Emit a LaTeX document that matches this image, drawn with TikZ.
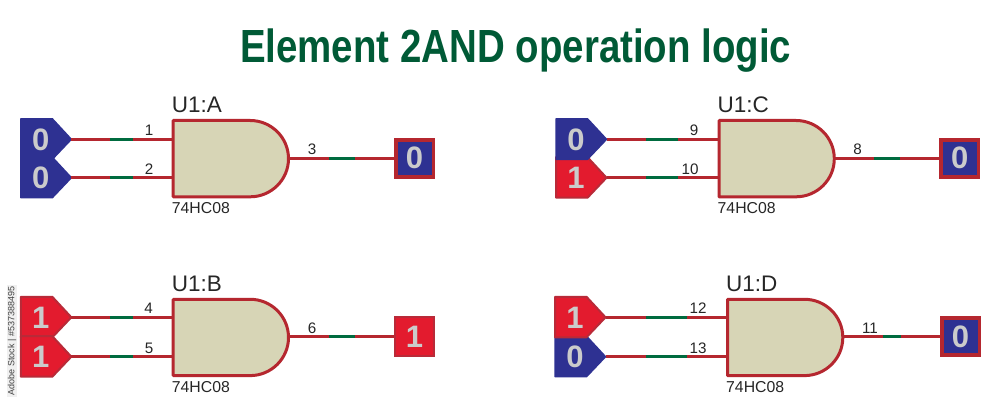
\documentclass[tikz,border=0pt]{standalone}
\usepackage{fontspec}
\setmainfont{Liberation Sans}
\usetikzlibrary{calc}
\definecolor{wirered}{HTML}{B5272F}
\definecolor{wiregreen}{HTML}{006B3F}
\definecolor{gatefill}{HTML}{D7D5B6}
\definecolor{lowblue}{HTML}{2E3192}
\definecolor{highred}{HTML}{E31B2E}
\definecolor{highedge}{HTML}{B92A38}
\definecolor{digitgrey}{HTML}{CBCBCB}
\definecolor{titlegreen}{HTML}{005A36}
\tikzset{
  wireline/.style={draw=wirered,line width=2.8pt},
  wiremid/.style={draw=wiregreen,line width=2.8pt},
  gatebody/.style={draw=wirered,fill=gatefill,line width=3pt,line join=round},
  pinlow/.style={draw=lowblue,fill=lowblue,line width=1.5pt,line join=round},
  pinhigh/.style={draw=highedge,fill=highred,line width=2pt,line join=round},
  digit/.style={text=digitgrey,inner sep=0pt,font=\fontsize{31}{31}\selectfont\bfseries},
  boxlow/.style={draw=wirered,fill=lowblue,line width=3.5pt,minimum width=37.5pt,minimum height=37pt,inner sep=0pt,digit},
  boxhigh/.style={draw=highedge,fill=highred,line width=2pt,minimum width=39.5pt,minimum height=39pt,inner sep=0pt,digit},
  partname/.style={anchor=base west,inner sep=0pt,text=black!85,font=\fontsize{22.5}{24}\selectfont},
  parttype/.style={anchor=base west,inner sep=0pt,text=black!85,font=\fontsize{15.8}{17}\selectfont},
  pinnum/.style={anchor=base,inner sep=0pt,text=black!85,font=\fontsize{15.2}{16}\selectfont},
}
% name, x, y of the top edge, style, value
\newcommand{\inpin}[5]{%
  \begin{scope}[shift={(#2,#3)}]
    \draw[#4] (0,0) -- (31.5,0) -- (50.5,20.5) -- (31.5,40.5) -- (0,40.5) -- cycle;
    \coordinate (#1) at (50.5,20.5);
    \node[digit] (#1-val) at (20,21) {#5};
  \end{scope}}
% name, x, y of the top edge, label
\newcommand{\andgate}[4]{%
  \begin{scope}[shift={(#2,#3)}]
    \draw[gatebody] (0,0) -- (77,0) .. controls (98,0) and (115.3,17) .. (115.3,38.2)
      .. controls (115.3,59.3) and (98,76.3) .. (77,76.3) -- (0,76.3) -- cycle;
    \node[partname] (#1-name) at (-1.5,-7.8) {#4};
    \node[parttype] (#1-type) at (-1.5,92.8) {74HC08};
  \end{scope}}
% from, to, green start x, green end x, number, number x, number node name
\newcommand{\wire}[7]{%
  \draw[wireline] (#1) -- (#2);
  \draw[wiremid] (#1 -| #3,0) -- (#1 -| #4,0);
  \node[pinnum] (#7) at ($(#1 -| #6,0)+(0,-3.4)$) {#5};}
\begin{document}
\begin{tikzpicture}[x=1pt,y=-1pt]
\useasboundingbox (0,0) rectangle (1000,403);
\fill[white] (0,0) rectangle (1000,403);

\node[anchor=base,inner sep=0pt,text=titlegreen] (title) at (515.7,62.3)
  {\scalebox{0.827}[1]{\fontsize{46.5}{50}\selectfont\bfseries Element 2AND operation logic}};

\node[fill=black!6,text=black!75,rotate=90,anchor=center,inner xsep=2pt,inner ysep=1pt,
  font=\fontsize{9}{10}\selectfont] (stock) at (12,341) {Adobe Stock | \#537388495};

% gate coordinates
\coordinate (A1) at (172,139.3); \coordinate (A2) at (172,177.7); \coordinate (A3) at (288,158.3);
\coordinate (C1) at (718,139.3); \coordinate (C2) at (718,177.7); \coordinate (C3) at (833,158.3);
\coordinate (B1) at (172,317.3); \coordinate (B2) at (172,356.7); \coordinate (B3) at (288,336.4);
\coordinate (D1) at (727,317.3); \coordinate (D2) at (727,356.7); \coordinate (D3) at (842,336.4);

% output indicators
\node[boxlow]  (Aout) at (414.5,158.3) {0};
\node[boxlow]  (Cout) at (959.7,158.3) {0};
\node[boxhigh] (Bout) at (414.5,336.4) {1};
\node[boxlow]  (Dout) at (960.5,336.4) {0};

% input pins
\inpin{Ap1}{20.8}{118.8}{pinlow}{0}
\inpin{Ap2}{20.8}{157.2}{pinlow}{0}
\inpin{Cp2}{556}{157.2}{pinhigh}{1}
\inpin{Cp1}{556}{118.8}{pinlow}{0}
\inpin{Bp1}{20.8}{296.8}{pinhigh}{1}
\inpin{Bp2}{20.8}{336.2}{pinhigh}{1}
\inpin{Dp2}{555}{336.2}{pinlow}{0}
\inpin{Dp1}{555}{296.8}{pinhigh}{1}

% connectors
\wire{Ap1}{A1}{110}{133}{1}{149}{n1}
\wire{Ap2}{A2}{110}{133}{2}{149}{n2}
\wire{A3}{Aout.west}{329}{355}{3}{312}{n3}
\wire{Cp1}{C1}{645.7}{677.7}{9}{694}{n9}
\wire{Cp2}{C2}{645.7}{677.7}{10}{690}{n10}
\wire{C3}{Cout.west}{874}{900}{8}{857.7}{n8}
\wire{Bp1}{B1}{110}{133}{4}{148.5}{n4}
\wire{Bp2}{B2}{110}{133}{5}{149}{n5}
\wire{B3}{Bout.west}{329}{355}{6}{312}{n6}
\wire{Dp1}{D1}{645.7}{686.7}{12}{698}{n12}
\wire{Dp2}{D2}{645.7}{686.7}{13}{698}{n13}
\wire{D3}{Dout.west}{883}{901}{11}{870}{n11}

% gates
\andgate{GA}{173.2}{120.5}{U1:A}
\andgate{GC}{719}{120.5}{U1:C}
\andgate{GB}{173.2}{299.3}{U1:B}
\andgate{GD}{727.5}{299.3}{U1:D}
\end{tikzpicture}
\end{document}
